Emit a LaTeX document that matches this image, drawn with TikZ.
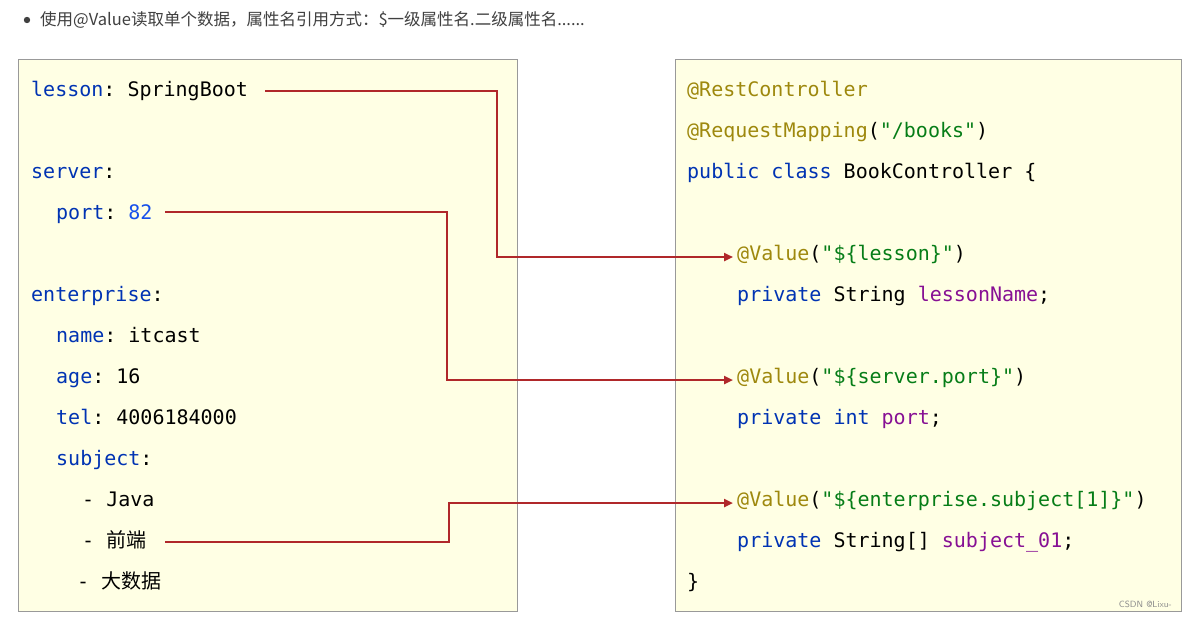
\documentclass[tikz,border=0pt]{standalone}
\usepackage{fontspec}
\setmonofont{DejaVu Sans Mono}
\newfontfamily\cjk{Noto Sans CJK SC}
\usetikzlibrary{arrows.meta}
\definecolor{kw}{HTML}{0033B3}
\definecolor{num}{HTML}{1750EB}
\definecolor{ann}{HTML}{9E880D}
\definecolor{str}{HTML}{067D17}
\definecolor{fld}{HTML}{871094}
\definecolor{red}{HTML}{B0282A}
\definecolor{boxfill}{HTML}{FFFFE4}
\begin{document}
\begin{tikzpicture}[x=1pt,y=-1pt,
  code/.style={anchor=base west,inner sep=0pt,font=\ttfamily\fontsize{20}{20}\selectfont},
  panel/.style={draw=black!40,fill=boxfill,line width=1pt},
  link/.style={draw=red,line width=2.6pt,rounded corners=0pt},
  arr/.style={link,-{Triangle[length=9pt,width=8pt]}}]
\useasboundingbox (0,0) rectangle (1188,618);
\fill[white] (0,0) rectangle (1188,618);
\node[anchor=base west,inner sep=0pt,text=black!75,font=\cjk\fontsize{16.5}{16.5}\selectfont] (hdr) at (40,26) {使用@Value读取单个数据，属性名引用方式：\${一级属性名.二级属性名......}};
\fill[black!75] (27,20) circle (3.2pt);
\path[panel] (18,60) rectangle (517,611);
\path[panel] (675,60) rectangle (1181,611);
% left
\node[code] (l1) at (31,96) {\textcolor{kw}{lesson}: SpringBoot};
\node[code] (l2) at (31,178) {\textcolor{kw}{server}:};
\node[code] (l3) at (56,219) {\textcolor{kw}{port}: \textcolor{num}{82}};
\node[code] (l4) at (31,301) {\textcolor{kw}{enterprise}:};
\node[code] (l5) at (56,342) {\textcolor{kw}{name}: itcast};
\node[code] (l6) at (56,383) {\textcolor{kw}{age}: 16};
\node[code] (l7) at (56,424) {\textcolor{kw}{tel}: 4006184000};
\node[code] (l8) at (56,465) {\textcolor{kw}{subject}:};
\node[code] (l9) at (82,506) {- Java};
\node[code] (l10) at (82,547) {- {\cjk 前端}};
\node[code] (l11) at (77,588) {- {\cjk 大数据}};
% right
\node[code] (r1) at (687,96) {\textcolor{ann}{@RestController}};
\node[code] (r2) at (687,137) {\textcolor{ann}{@RequestMapping}(\textcolor{str}{"/books"})};
\node[code] (r3) at (687,178) {\textcolor{kw}{public class} BookController \{};
\node[code] (r4) at (737,260) {\textcolor{ann}{@Value}(\textcolor{str}{"\$\{lesson\}"})};
\node[code] (r5) at (737,301) {\textcolor{kw}{private} String \textcolor{fld}{lessonName};};
\node[code] (r6) at (737,383) {\textcolor{ann}{@Value}(\textcolor{str}{"\$\{server.port\}"})};
\node[code] (r7) at (737,424) {\textcolor{kw}{private int} \textcolor{fld}{port};};
\node[code] (r8) at (737,506) {\textcolor{ann}{@Value}(\textcolor{str}{"\$\{enterprise.subject[1]\}"})};
\node[code] (r9) at (737,547) {\textcolor{kw}{private} String[] \textcolor{fld}{subject\_01};};
\node[code] (r10) at (687,588) {\}};
\node[anchor=south east,inner sep=0pt,text=black!45,font=\sffamily\fontsize{9}{9}\selectfont] (wm) at (1172,608) {CSDN @Lixu-};
% connectors
\coordinate (a1) at (265,91); \coordinate (b1) at (733,257);
\coordinate (a2) at (165,212); \coordinate (b2) at (733,380);
\coordinate (a3) at (165,542); \coordinate (b3) at (733,503);
\draw[arr] (a1) -| (497,257) -- (b1);
\draw[arr] (a2) -| (447,380) -- (b2);
\draw[arr] (a3) -| (449,503) -- (b3);
\end{tikzpicture}
\end{document}
